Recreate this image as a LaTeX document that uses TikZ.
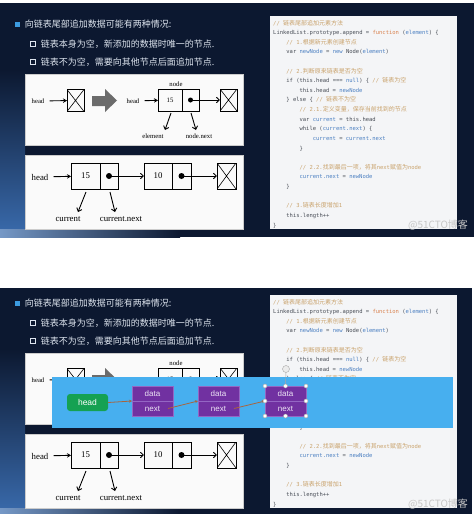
\documentclass[tikz,border=0pt]{standalone}
\usepackage{fontspec}
\setmainfont{Liberation Serif}
\newfontfamily\cjk{Noto Sans CJK SC}
\newfontfamily\codefont{DejaVu Sans Mono}
\newfontfamily\uifont{Liberation Sans}
\usetikzlibrary{positioning,arrows.meta}

\definecolor{slidebg}{HTML}{0C1830}
\definecolor{streak}{HTML}{3A6CAE}
\definecolor{slidetxt}{HTML}{DDE4EE}
\definecolor{bulletblue}{HTML}{3C9BE0}
\definecolor{paper}{HTML}{FAFAFA}
\definecolor{codebg}{HTML}{F4F5F7}
\definecolor{codeink}{HTML}{474C55}
\definecolor{cmtcol}{HTML}{C9A26B}
\definecolor{idcol}{HTML}{4A7FC1}
\definecolor{fncol}{HTML}{D9824F}
\definecolor{overlayblue}{HTML}{47AFEF}
\definecolor{headgreen}{HTML}{15A152}
\definecolor{nodepurple}{HTML}{7131A1}
\definecolor{purpleedge}{HTML}{9466C4}
\definecolor{purpletext}{HTML}{EDE4F5}
\definecolor{linkbrown}{HTML}{A9643C}

\newcommand\zhtext[1]{{\cjk\fontsize{6}{7}\selectfont #1}}
\newcommand\jscomment[1]{\textcolor{cmtcol}{#1}}
\newcommand\jsid[1]{\textcolor{idcol}{#1}}
\newcommand\codeline[4]{\node[codetext] (#1) at ({273+13.2*#2},{25+9.62*#3}) {#4};}

\tikzset{
  slidetext/.style={text=slidetxt, font=\cjk\fontsize{9}{11}\selectfont, anchor=west, inner sep=0pt},
  bigbullet/.style={fill=bulletblue, minimum size=5pt, inner sep=0pt},
  subbullet/.style={draw=slidetxt, line width=0.9pt, minimum size=5.5pt, inner sep=0pt},
  cellA/.style={draw, line width=0.8pt, minimum height=22pt, inner sep=0pt, outer sep=0pt, font=\fontsize{6.7}{8}\selectfont},
  cellB/.style={draw, line width=1pt, minimum height=26pt, inner sep=0pt, outer sep=0pt, font=\fontsize{8.8}{10}\selectfont},
  crossed/.style={path picture={\draw[line width=0.6pt] (path picture bounding box.north west) -- (path picture bounding box.south east) (path picture bounding box.north east) -- (path picture bounding box.south west);}},
  nullA/.style={cellA, crossed},
  nullB/.style={cellB, crossed},
  ptrdot/.style={circle, fill=black, inner sep=0pt, minimum size=#1},
  ptrdot/.default=5pt,
  txtA/.style={font=\fontsize{6.7}{8}\selectfont, inner sep=1pt},
  txtB/.style={font=\fontsize{8.8}{10}\selectfont, inner sep=1pt},
  headarrow/.style={-{Stealth[length=4pt,width=4.5pt]}, line width=0.9pt, shorten <=4pt},
  nextarrow/.style={-{Straight Barb[length=3pt,width=5.5pt]}, line width=0.9pt},
  codetext/.style={anchor=base west, inner sep=0pt, text=codeink, font=\codefont\fontsize{5.5}{7}\selectfont},
  watermark/.style={text=gray!45, font=\cjk\fontsize{10}{12}\selectfont},
  headbox/.style={fill=headgreen, rounded corners=3pt, minimum width=41pt, minimum height=17pt, text=white, font=\uifont\fontsize{8.5}{10}\selectfont},
  pcell/.style={fill=nodepurple, draw=purpleedge, line width=0.5pt, minimum width=41pt, minimum height=15pt, inner sep=0pt, outer sep=0pt, text=purpletext, font=\uifont\fontsize{8}{10}\selectfont},
  grip/.style={circle, fill=white, draw=gray!70, line width=0.4pt, minimum size=4pt, inner sep=0pt},
  link/.style={draw=linkbrown, line width=0.8pt, -{Stealth[length=3pt,width=3pt]}},
}

% one slide, node names start with #1
\newcommand\drawslide[1]{
  \shade[top color=slidebg, bottom color=streak] (0,70) rectangle (25,237);
  \shade[left color=streak!70!white, right color=slidebg] (0,229) rectangle (180,237);
  % bullets
  \node[bigbullet] (#1b1) at (17,24) {};
  \node[slidetext, right=5pt of #1b1] (#1t1) {向链表尾部追加数据可能有两种情况:};
  \node[subbullet] (#1b2) at (33,44) {};
  \node[slidetext, right=4.5pt of #1b2] (#1t2) {链表本身为空，新添加的数据时唯一的节点.};
  \node[subbullet] (#1b3) at (33,62) {};
  \node[slidetext, right=4.5pt of #1b3] (#1t3) {链表不为空，需要向其他节点后面追加节点.};
  \filldraw[fill=paper, draw=gray!40, line width=0.8pt] (25,74) rectangle (243,145);
  \filldraw[fill=paper, draw=gray!40, line width=0.8pt] (25,155) rectangle (243,229);
  % empty list, then one node
  \node[txtA] (#1hA) at (38,101) {head};
  \node[nullA, minimum width=17pt] (#1xA) at (75.5,100.5) {};
  \draw[headarrow] (#1hA) -- (#1xA);
  \fill[black!58] (92,96) -- (105,96) -- (105,89) -- (117,100.5) -- (105,112) -- (105,106) -- (92,106) -- cycle;
  \node[txtA] (#1hB) at (133,101) {head};
  \node[cellA, minimum width=24pt] (#1dA) at (170,100) {15};
  \node[cellA, minimum width=17pt, right=0pt of #1dA] (#1pA) {};
  \node[ptrdot] (#1dotA) at (#1pA.center) {};
  \node[nullA, minimum width=17pt] (#1xB) at (228.5,100) {};
  \node[txtA] (#1nodeA) at (176,84) {node};
  \draw[headarrow] (#1hB) -- (#1dA);
  \draw[nextarrow] (#1dotA.center) -- (#1xB);
  \node[txtA] (#1elA) at (153,136) {element};
  \node[txtA] (#1nnA) at (199,136) {node.next};
  \coordinate (#1tipA) at (165,130);
  \coordinate (#1tipB) at (196,130);
  \draw[nextarrow] ([shift={(1,2)}]#1dA.south) -- (#1tipA);
  \draw[nextarrow] ([shift={(0.5,2)}]#1pA.south) -- (#1tipB);
  % two nodes
  \node[txtB] (#1hC) at (40,177) {head};
  \node[cellB, minimum width=29pt] (#1dB) at (85.5,176) {15};
  \node[cellB, minimum width=18pt, right=0pt of #1dB] (#1pB) {};
  \node[ptrdot=6pt] (#1dotB) at (#1pB.center) {};
  \node[cellB, minimum width=28pt] (#1dC) at (158,176) {10};
  \node[cellB, minimum width=19pt, right=0pt of #1dC] (#1pC) {};
  \node[ptrdot=6pt] (#1dotC) at (#1pC.center) {};
  \node[nullB, minimum width=19pt] (#1xC) at (226.5,176) {};
  \draw[headarrow] (#1hC) -- (#1dB);
  \draw[nextarrow] (#1dotB.center) -- (#1dC);
  \draw[nextarrow] (#1dotC.center) -- (#1xC);
  \node[txtB] (#1cur) at (68,219) {current};
  \node[txtB] (#1curnext) at (121,219) {current.next};
  \coordinate (#1tipC) at (78,212);
  \coordinate (#1tipD) at (115,212);
  \draw[nextarrow] ([shift={(0.5,3)}]#1dB.south) -- (#1tipC);
  \draw[nextarrow] ([shift={(1,3)}]#1pB.south) -- (#1tipD);
  % code
  \fill[codebg] (270,16) rectangle (457,229);
  \codeline{#1c0}{0}{0}{\jscomment{// \zhtext{链表尾部追加元素方法}}}
  \codeline{#1c1}{0}{1}{LinkedList.prototype.append = \textcolor{fncol}{function} (\jsid{element}) \{}
  \codeline{#1c2}{1}{2}{\jscomment{// 1.\zhtext{根据新元素创建节点}}}
  \codeline{#1c3}{1}{3}{var \jsid{newNode} = \jsid{new} Node(\jsid{element})}
  \codeline{#1c5}{1}{5}{\jscomment{// 2.\zhtext{判断原来链表是否为空}}}
  \codeline{#1c6}{1}{6}{if (this.head === \jsid{null}) \{ \jscomment{// \zhtext{链表为空}}}
  \codeline{#1c7}{2}{7}{this.head = \jsid{newNode}}
  \codeline{#1c8}{1}{8}{\} else \{ \jscomment{// \zhtext{链表不为空}}}
  \codeline{#1c9}{2}{9}{\jscomment{// 2.1.\zhtext{定义变量，保存当前找到的节点}}}
  \codeline{#1c10}{2}{10}{var \jsid{current} = this.head}
  \codeline{#1c11}{2}{11}{while (\jsid{current.next}) \{}
  \codeline{#1c12}{3}{12}{\jsid{current} = \jsid{current.next}}
  \codeline{#1c13}{2}{13}{\}}
  \codeline{#1c15}{2}{15}{\jscomment{// 2.2.\zhtext{找到最后一项，将其}next\zhtext{赋值为}node}}
  \codeline{#1c16}{2}{16}{\jsid{current.next} = \jsid{newNode}}
  \codeline{#1c17}{1}{17}{\}}
  \codeline{#1c19}{1}{19}{\jscomment{// 3.\zhtext{链表长度增加}1}}
  \codeline{#1c20}{1}{20}{this.length++}
  \codeline{#1c21}{0}{21}{\}}
  \node[watermark] (#1wm) at (438,225) {@51CTO博客};
}

\begin{document}
\begin{tikzpicture}[x=1pt, y={(0pt,-1pt)}]
  \useasboundingbox (0,0) rectangle (474,514);
  \fill[white] (0,0) rectangle (474,514);
  \fill[slidebg] (0,3) rectangle (474,237);
  \fill[slidebg] (0,288) rectangle (472,514);
  \begin{scope}
    \drawslide{t}
  \end{scope}
  \begin{scope}[shift={(0,279)}]
    \drawslide{b}
  \end{scope}

  % shape pasted over the second slide
  \fill[overlayblue] (52,377) rectangle (453,428);
  \node[headbox] (ohead) at (87.5,402.5) {head};
  \node[pcell] (od1) at (152.5,393.5) {data};
  \node[pcell, below=0pt of od1] (on1) {next};
  \node[pcell] (od2) at (218.5,393.5) {data};
  \node[pcell, below=0pt of od2] (on2) {next};
  \node[pcell] (od3) at (285.5,393.5) {data};
  \node[pcell, below=0pt of od3] (on3) {next};
  \draw[link] (ohead.east) -- (on1.north west);
  \draw[link] ([xshift=-5pt]on1.east) -- (on2.north west);
  \draw[link] ([xshift=-5pt]on2.east) -- (on3.north west);
  \foreach \a [count=\i] in {od3.north west, od3.north, od3.north east, od3.south west, od3.south east, on3.south west, on3.south, on3.south east}
    \node[grip] (grip\i) at (\a) {};
  \node[grip, minimum size=7pt, fill=gray!15] (rotgrip) at (286,369) {};
  \draw[gray!70, line width=0.4pt] (rotgrip) -- (grip2);
\end{tikzpicture}
\end{document}
